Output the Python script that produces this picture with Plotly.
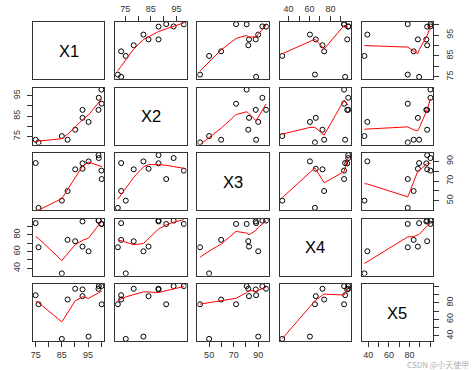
import numpy as np
import plotly.graph_objects as go

# ---- data ----
names = ["X1", "X2", "X3", "X4", "X5"]
X1 = [75.0, 76.1, 85.0, 87.2, 90.1, 92.9, 92.9, 95.2, 99.0, 99.1, 100.1, 100.2]
X2 = [73.4, 72.1, 75.2, 73.4, 78.3, 88.0, 84.1, 82.1, 88.0, 93.9, 97.9, 91.0]
X3 = [88.3, 42.6, 50.0, 59.8, 81.9, 88.0, 82.5, 90.0, 96.4, 93.4, 80.6, 72.0]
X4 = [94.0, 65.2, 34.0, 74.0, 72.4, 96.0, 66.0, 60.4, 97.0, 97.0, 93.0, 93.0]
X5 = [89.3, 78.3, 36.3, 84.0, 97.1, 96.3, 88.1, 39.1, 97.1, 100.3, 100.3, 78.3]

tick_vals = {
    "X1": [75, 80, 85, 90, 95, 100],
    "X2": [75, 80, 85, 90, 95],
    "X3": [50, 60, 70, 80, 90],
    "X4": [40, 50, 60, 70, 80, 90],
    "X5": [40, 50, 60, 70, 80, 90, 100],
}
tick_text = {
    "X1": ["75", "", "85", "", "95", ""],
    "X2": ["75", "", "85", "", "95"],
    "X3": ["50", "", "70", "", "90"],
    "X4": ["40", "", "60", "", "80", ""],
    "X5": ["40", "", "60", "", "80", "", ""],
}
watermark = "CSDN @小天使甲"

data = [X1, X2, X3, X4, X5]


# ---- R's lowess (clowess) ----
def _lowest(x, y, n, xs, nleft, nright, w, userw, rw):
    rng = x[n - 1] - x[0]
    h = max(xs - x[nleft], x[nright] - xs)
    h9 = 0.999 * h
    h1 = 0.001 * h
    a = 0.0
    j = nleft
    while j < n:
        w[j] = 0.0
        r = abs(x[j] - xs)
        if r <= h9:
            if r <= h1:
                w[j] = 1.0
            else:
                w[j] = (1 - (r / h) ** 3) ** 3
            if userw:
                w[j] *= rw[j]
            a += w[j]
        elif x[j] > xs:
            break
        j += 1
    nrt = j - 1
    if a <= 0:
        return 0.0, False
    for j in range(nleft, nrt + 1):
        w[j] /= a
    if h > 0:
        a = sum(w[j] * x[j] for j in range(nleft, nrt + 1))
        b = xs - a
        c = sum(w[j] * (x[j] - a) ** 2 for j in range(nleft, nrt + 1))
        if np.sqrt(c) > 0.001 * rng:
            b /= c
            for j in range(nleft, nrt + 1):
                w[j] *= (b * (x[j] - a) + 1.0)
    ys = sum(w[j] * y[j] for j in range(nleft, nrt + 1))
    return ys, True


def lowess(xv, yv, f=2 / 3, nsteps=3):
    order = np.argsort(xv, kind="stable")
    x = np.asarray(xv, float)[order]
    y = np.asarray(yv, float)[order]
    n = len(x)
    delta = 0.01 * (x[-1] - x[0])
    ns = max(min(int(f * n + 1e-7), n), 2)
    ys = np.zeros(n)
    rw = np.zeros(n)
    res = np.zeros(n)
    it = 1
    while it <= nsteps + 1:
        nleft, nright, last, i = 0, ns - 1, -1, 0
        while True:
            if nright < n - 1:
                d1 = x[i] - x[nleft]
                d2 = x[nright + 1] - x[i]
                if d1 > d2:
                    nleft += 1
                    nright += 1
                    continue
            val, ok = _lowest(x, y, n, x[i], nleft, nright, res, it > 1, rw)
            ys[i] = val if ok else y[i]
            if last < i - 1:
                denom = x[i] - x[last]
                for j in range(last + 1, i):
                    alpha = (x[j] - x[last]) / denom
                    ys[j] = alpha * ys[i] + (1 - alpha) * ys[last]
            last = i
            cut = x[last] + delta
            i = last + 1
            while i < n:
                if x[i] > cut:
                    break
                if x[i] == x[last]:
                    ys[i] = ys[last]
                    last = i
                i += 1
            i = max(last + 1, i - 1)
            if last >= n - 1:
                break
        res = y - ys
        sc = np.sum(np.abs(res)) / n
        if it > nsteps:
            break
        ar = np.sort(np.abs(res))
        m1 = n // 2
        if n % 2 == 0:
            cmad = 3.0 * (ar[m1] + ar[n - m1 - 1])
        else:
            cmad = 6.0 * ar[m1]
        if cmad < 1e-7 * sc:
            break
        c9, c1 = 0.999 * cmad, 0.001 * cmad
        r = np.abs(res)
        rw = np.where(r <= c1, 1.0, np.where(r <= c9, (1 - (r / cmad) ** 2) ** 2, 0.0))
        res = np.zeros(n)
        it += 1
    return x, ys


# ---- layout geometry (pixels) ----
W, H = 474, 370
X0, XSTEP, PW = 33.0, 82.2, 71.3
Y0, YSTEP, PH = 22.0, 65.5, 57.0

fig = go.Figure()
layout = dict(
    width=W, height=H, margin=dict(l=0, r=0, t=0, b=0),
    paper_bgcolor="white", plot_bgcolor="white", showlegend=False,
    font=dict(family="Liberation Sans, Arial, sans-serif", color="#333"),
)
annotations = []

ranges = []
for v in data:
    lo, hi = min(v), max(v)
    pad = 0.04 * (hi - lo)
    ranges.append([lo - pad, hi + pad])

for r in range(5):
    for c in range(5):
        idx = r * 5 + c + 1
        sfx = "" if idx == 1 else str(idx)
        x0 = X0 + c * XSTEP
        y0 = Y0 + r * YSTEP
        xdom = [x0 / W, (x0 + PW) / W]
        ydom = [1 - (y0 + PH) / H, 1 - y0 / H]

        xa = dict(domain=xdom, range=ranges[c], anchor="y" + sfx,
                  showgrid=False, zeroline=False, showline=True, mirror=True,
                  linecolor="#333", linewidth=1.2, automargin=False,
                  showticklabels=False, ticks="")
        ya = dict(domain=ydom, range=ranges[r], anchor="x" + sfx,
                  showgrid=False, zeroline=False, showline=True, mirror=True,
                  linecolor="#333", linewidth=1.2, automargin=False,
                  showticklabels=False, ticks="")

        tick_common = dict(ticks="outside", ticklen=5, tickwidth=1, tickcolor="#333",
                           showticklabels=True, tickfont=dict(size=9, color="#333"))
        if (r == 0 and c % 2 == 1) or (r == 4 and c % 2 == 0):
            xa.update(tick_common)
            xa.update(tickmode="array", tickvals=tick_vals[names[c]],
                      ticktext=tick_text[names[c]],
                      side="top" if r == 0 else "bottom", tickangle=0)
        if (c == 0 and r % 2 == 1) or (c == 4 and r % 2 == 0):
            ya.update(tick_common)
            ya.update(tickmode="array", tickvals=tick_vals[names[r]],
                      ticktext=tick_text[names[r]],
                      side="left" if c == 0 else "right", tickangle=-90,
                      ticklabelstandoff=3)

        layout["xaxis" + sfx] = xa
        layout["yaxis" + sfx] = ya

        if r == c:
            # invisible trace so that the panel frame and ticks are drawn
            fig.add_trace(go.Scatter(
                x=[data[c][0]], y=[data[r][0]], mode="markers",
                xaxis="x" + sfx, yaxis="y" + sfx,
                marker=dict(size=1, opacity=0), hoverinfo="skip"))
            annotations.append(dict(
                x=(xdom[0] + xdom[1]) / 2, y=(ydom[0] + ydom[1]) / 2,
                xref="paper", yref="paper", text=names[r], showarrow=False,
                xanchor="center", yanchor="middle",
                font=dict(size=16.5, color="black",
                          family="Liberation Sans, Arial, sans-serif")))
        else:
            xv, yv = data[c], data[r]
            fig.add_trace(go.Scatter(
                x=xv, y=yv, mode="markers", xaxis="x" + sfx, yaxis="y" + sfx,
                marker=dict(symbol="circle-open", size=5, color="black",
                            line=dict(width=1, color="black")),
                hoverinfo="skip"))
            lx, ly = lowess(xv, yv)
            fig.add_trace(go.Scatter(
                x=lx, y=ly, mode="lines", xaxis="x" + sfx, yaxis="y" + sfx,
                line=dict(color="red", width=1), hoverinfo="skip"))

annotations.append(dict(
    x=471 / W, y=1 - 364 / H, xref="paper", yref="paper", text=watermark,
    showarrow=False, xanchor="right", yanchor="middle",
    font=dict(size=8, color="rgba(150,150,150,0.8)",
              family="Noto Sans CJK SC, sans-serif")))
layout["annotations"] = annotations
fig.update_layout(**layout)
fig.write_html(
    "out.html",
    config={"displayModeBar": False},
    post_script="document.body.style.margin='0px';document.body.style.overflow='hidden';",
)
